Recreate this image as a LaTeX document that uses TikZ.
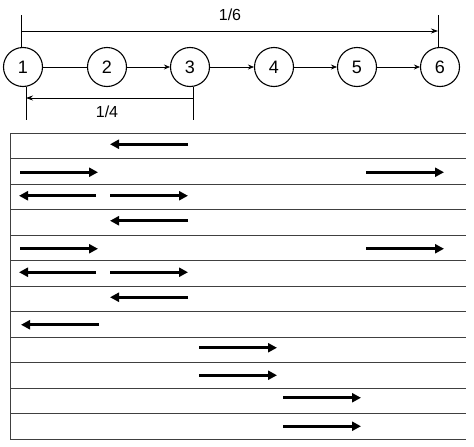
\documentclass[tikz,border=0pt]{standalone}
\usepackage{fontspec}
\setmainfont{Liberation Sans}
\usetikzlibrary{arrows.meta}
\begin{document}
\begin{tikzpicture}[x=1pt,y=-1pt,
  state/.style={circle,draw,line width=1.1pt,minimum size=39pt,inner sep=0pt,font=\fontsize{18}{18}\selectfont},
  link/.style={line width=0.8pt,-{Stealth[length=6pt,width=5pt]}},
  dim/.style={line width=0.8pt},
  dimarrow/.style={line width=0.8pt,-{Stealth[length=7pt,width=5pt]}},
  rule/.style={line width=1pt,draw=black!75},
  msg/.style={line width=2.6pt,-{Triangle[length=9pt,width=9pt]}},
  lbl/.style={font=\fontsize{16}{16}\selectfont,inner sep=0pt}]
\useasboundingbox (0,0) rectangle (474,447);
% states
\node[state] (n1) at (23,67) {1};
\node[state] (n2) at (107,67) {2};
\node[state] (n3) at (190,67) {3};
\node[state] (n4) at (274,67) {4};
\node[state] (n5) at (357,67) {5};
\node[state] (n6) at (440,67) {6};
\draw[dim] (n1) -- (n2);
\draw[link] (n2) -- (n3);
\draw[link] (n3) -- (n4);
\draw[link] (n4) -- (n5);
\draw[link] (n5) -- (n6);
% top dimension 1/6
\coordinate (t1a) at (21,15); \coordinate (t1b) at (21,47);
\coordinate (t6a) at (438,15); \coordinate (t6b) at (438,47);
\draw[dim] (t1a) -- (t1b);
\draw[dim] (t6a) -- (t6b);
\coordinate (d6s) at (21,31); \coordinate (d6e) at (438,31);
\draw[dimarrow] (d6s) -- (d6e);
\node[lbl] (l16) at (230,15) {1/6};
% bottom dimension 1/4
\coordinate (b1a) at (26,87); \coordinate (b1b) at (26,120);
\coordinate (b3a) at (193,87); \coordinate (b3b) at (193,120);
\draw[dim] (b1a) -- (b1b);
\draw[dim] (b3a) -- (b3b);
\coordinate (d4s) at (193,98); \coordinate (d4e) at (26,98);
\draw[dimarrow] (d4s) -- (d4e);
\node[lbl] (l14) at (107,112) {1/4};
% table
\coordinate (tl) at (10,133); \coordinate (bl) at (10,439);
\draw[rule] (tl) -- (bl);
\foreach \i in {0,...,12} {
  \draw[rule] (10,{133+\i*25.5}) -- (466,{133+\i*25.5});
}
% messages: rows centred at 145.75 + 25.5*(k-1)
\def\ry#1{145.75+25.5*(#1-1)}
\draw[msg] (188,{\ry{1}-1.5}) -- (110,{\ry{1}-1.5});
\draw[msg] (20,{\ry{2}+1}) -- (98,{\ry{2}+1});
\draw[msg] (366,{\ry{2}+1}) -- (444,{\ry{2}+1});
\draw[msg] (96,{\ry{3}-1}) -- (19,{\ry{3}-1});
\draw[msg] (110,{\ry{3}-1}) -- (188,{\ry{3}-1});
\draw[msg] (188,{\ry{4}-1.5}) -- (110,{\ry{4}-1.5});
\draw[msg] (20,{\ry{5}+1}) -- (98,{\ry{5}+1});
\draw[msg] (366,{\ry{5}+1}) -- (444,{\ry{5}+1});
\draw[msg] (96,{\ry{6}-1}) -- (19,{\ry{6}-1});
\draw[msg] (110,{\ry{6}-1}) -- (188,{\ry{6}-1});
\draw[msg] (188,{\ry{7}-1.5}) -- (110,{\ry{7}-1.5});
\draw[msg] (99,{\ry{8}+0.5}) -- (21,{\ry{8}+0.5});
\draw[msg] (199,{\ry{9}-2}) -- (277,{\ry{9}-2});
\draw[msg] (199,{\ry{10}}) -- (277,{\ry{10}});
\draw[msg] (283,{\ry{11}-3}) -- (361,{\ry{11}-3});
\draw[msg] (283,{\ry{12}}) -- (361,{\ry{12}});
\end{tikzpicture}
\end{document}
